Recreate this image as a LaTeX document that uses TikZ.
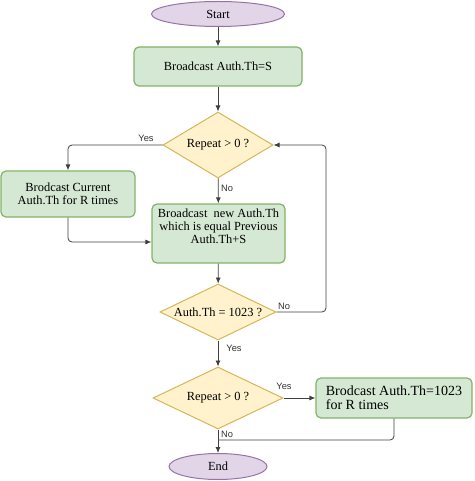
\documentclass[tikz,border=0pt]{standalone}
\usepackage{fontspec}
\setmainfont{Liberation Serif}
\newfontfamily\lblfont{Liberation Sans}
\usetikzlibrary{shapes.geometric,arrows.meta}
\definecolor{termfill}{HTML}{E1D5E7}
\definecolor{termline}{HTML}{9673A6}
\definecolor{procfill}{HTML}{D5E8D4}
\definecolor{procline}{HTML}{82B366}
\definecolor{decfill}{HTML}{FFF2CC}
\definecolor{decline}{HTML}{D6B656}
\begin{document}
\begin{tikzpicture}[x=1pt, y=-1pt,
  term/.style={ellipse, draw=termline, fill=termfill, line width=1pt, inner sep=0pt,
    font=\fontsize{12.4}{13}\selectfont},
  proc/.style={rectangle, rounded corners=5pt, draw=procline, fill=procfill, line width=1.2pt,
    align=center, inner sep=0pt, font=\fontsize{12.4}{13}\selectfont},
  decide/.style={diamond, aspect=2, draw=decline, fill=decfill, line width=1pt, inner sep=0pt,
    font=\fontsize{12.4}{13}\selectfont},
  flow/.style={draw=black!75, line width=0.8pt, rounded corners=4pt, -{Latex[length=6pt,width=5pt]}},
  wire/.style={draw=black!75, line width=0.8pt, rounded corners=4pt},
  lbl/.style={font=\lblfont\fontsize{9.3}{11}\selectfont, text=black!80, inner sep=0pt}]
\useasboundingbox (0,0) rectangle (474,481);

% shapes
\node[term, minimum width=133pt, minimum height=25pt] (start) at (218,14) {Start};
\node[proc, minimum width=168pt, minimum height=39pt] (bcast) at (218,66.5) {Broadcast Auth.Th=S};
\node[decide, minimum width=110pt, minimum height=66pt] (rep1) at (218,145) {Repeat > 0 ?};
\node[proc, minimum width=134pt, minimum height=46pt] (cur) at (68,194) {Brodcast Current\\Auth.Th for R times};
\node[proc, minimum width=133pt, minimum height=59pt] (newth) at (218.5,233.5)
  {Broadcast~ new Auth.Th\\which is equal Previous\\Auth.Th+S\\[1pt]\mbox{}};
\node[decide, minimum width=116pt, minimum height=56pt] (rep2) at (218,312) {Auth.Th = 1023 ?};
\node[decide, minimum width=130pt, minimum height=62pt] (rep3) at (218,398) {Repeat > 0 ?};
\node[proc, minimum width=156pt, minimum height=40pt, align=left,
  font=\fontsize{14}{14}\selectfont] (fin) at (394,398) {Brodcast Auth.Th=1023\\for R times};
\node[term, minimum width=98pt, minimum height=26pt] (end) at (218,466.5) {End};

% connectors
\draw[flow] (start) -- (bcast);
\draw[flow] (bcast) -- (rep1);
\draw[flow] (rep1.west) -| (cur.north);
\draw[flow] (rep1) -- (newth);
\draw[flow] (cur.south) |- ([yshift=-8.5pt]newth.west);
\draw[flow] (newth) -- (rep2);
\coordinate (back) at (326,312);
\draw[flow] (rep2.east) -- (back) |- (rep1.east);
\draw[flow] (rep2) -- (rep3);
\draw[flow] (rep3) -- (fin);
\coordinate (join) at (218,440);
\draw[wire] (fin.south) |- (join);
\draw[flow] (rep3.south) -- (end.north);

% labels
\node[lbl] (yes1) at (146,138) {Yes};
\node[lbl] (no1) at (227,188) {No};
\node[lbl] (no2) at (284,306) {No};
\node[lbl] (yes2) at (234,348) {Yes};
\node[lbl] (yes3) at (284,386) {Yes};
\node[lbl] (no3) at (227,434) {No};
\end{tikzpicture}
\end{document}
